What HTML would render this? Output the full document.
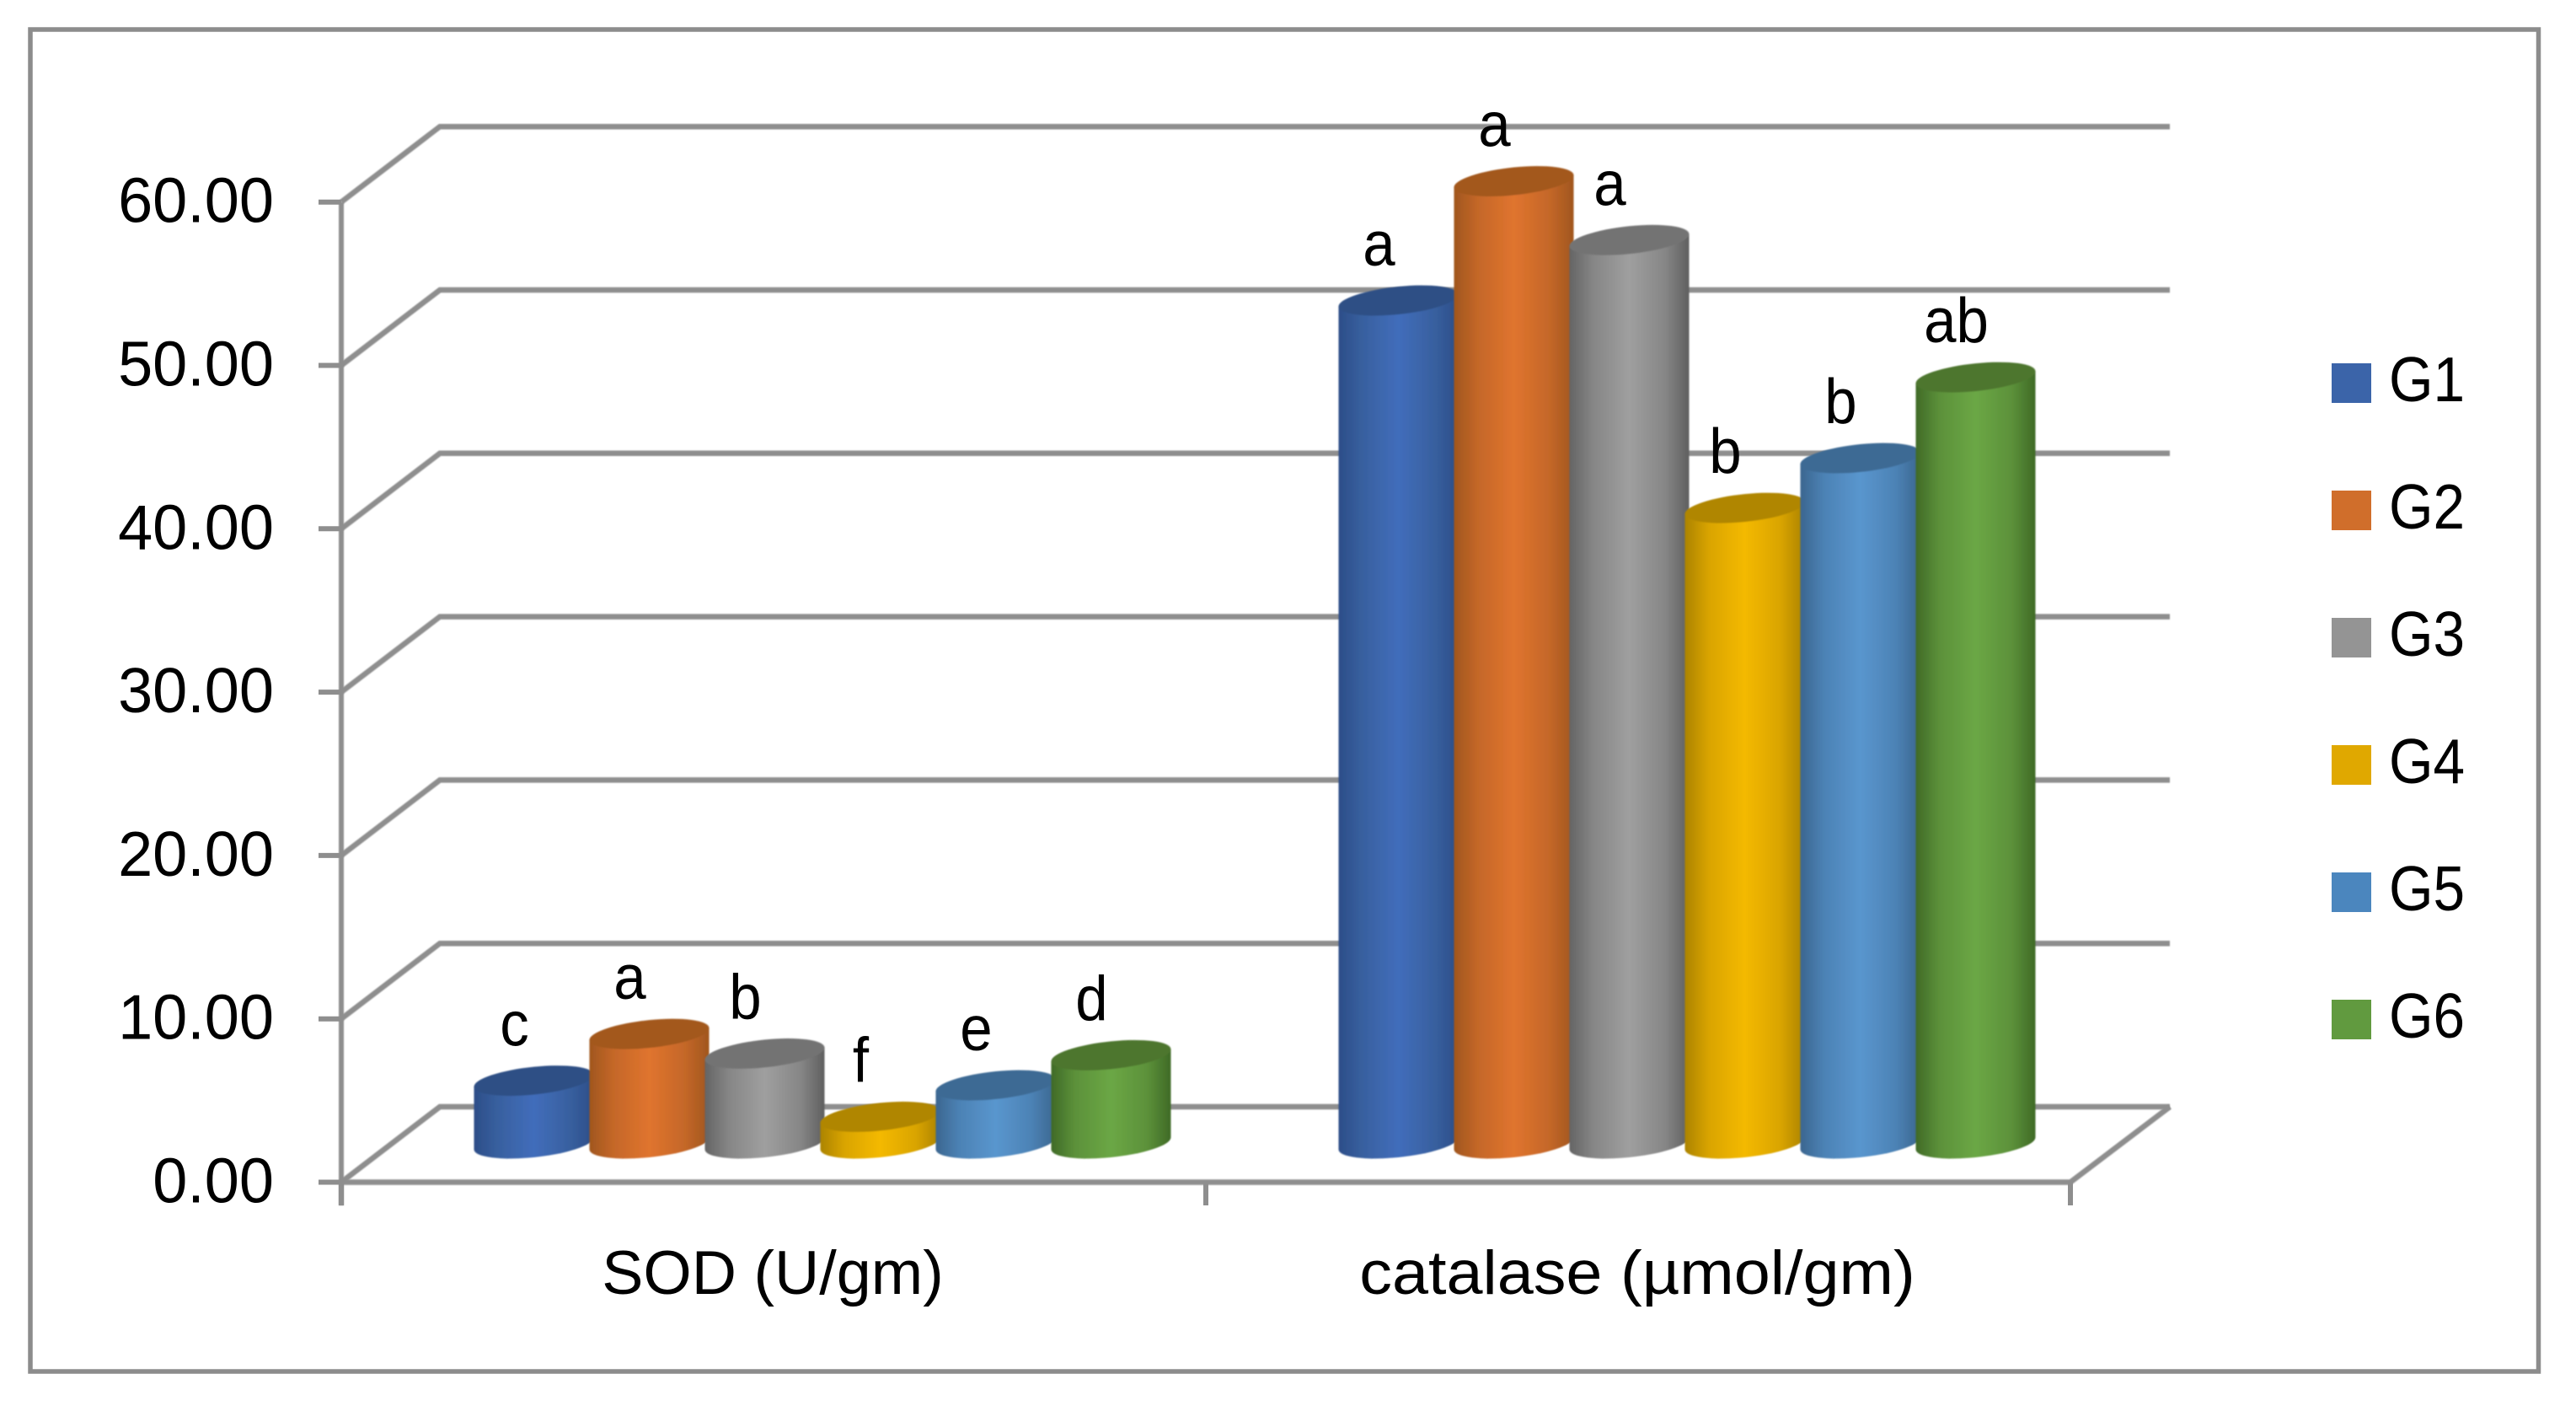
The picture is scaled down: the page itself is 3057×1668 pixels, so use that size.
<!DOCTYPE html>
<html lang="en">
<head>
<meta charset="utf-8">
<title>SOD and catalase by group</title>
<style>
  html, body { margin: 0; padding: 0; background: #fff; }
  svg { display: block; }
  text { font-family: "Liberation Sans", sans-serif; fill: #000; }
  .grid { fill: none; stroke: #8e8e8e; stroke-width: 6.5; stroke-linejoin: miter; }
  .tick { stroke: #8e8e8e; stroke-width: 6; fill: none; }
  .cap-0 { fill: #2e4f85; } .cap-1 { fill: #a3581f; } .cap-2 { fill: #737373; }
  .cap-3 { fill: #b08600; } .cap-4 { fill: #3d6a94; } .cap-5 { fill: #4e762e; }
  .sw-0 { fill: #3b64a9; } .sw-1 { fill: #d06e2b; } .sw-2 { fill: #949494; }
  .sw-3 { fill: #e0a800; } .sw-4 { fill: #4b86be; } .sw-5 { fill: #619a3f; }
</style>
</head>
<body>
<svg id="chart" xmlns="http://www.w3.org/2000/svg" width="3057" height="1668" viewBox="0 0 3057 1668">
  <defs>
    <filter id="soft" filterUnits="userSpaceOnUse" x="-3000" y="-1000" width="9000" height="4000"><feGaussianBlur stdDeviation="0.9"/></filter>
    <linearGradient id="grad-0"><stop offset="0" stop-color="#2c4d88"/><stop offset=".2" stop-color="#38609f"/><stop offset=".5" stop-color="#416dbb"/><stop offset=".8" stop-color="#38609f"/><stop offset="1" stop-color="#2c4d88"/></linearGradient>
    <linearGradient id="grad-1"><stop offset="0" stop-color="#a0561e"/><stop offset=".2" stop-color="#c46728"/><stop offset=".5" stop-color="#e0742e"/><stop offset=".8" stop-color="#c46728"/><stop offset="1" stop-color="#a0561e"/></linearGradient>
    <linearGradient id="grad-2"><stop offset="0" stop-color="#646464"/><stop offset=".2" stop-color="#868686"/><stop offset=".5" stop-color="#9f9f9f"/><stop offset=".8" stop-color="#868686"/><stop offset="1" stop-color="#5f5f5f"/></linearGradient>
    <linearGradient id="grad-3"><stop offset="0" stop-color="#ac8300"/><stop offset=".2" stop-color="#d9a400"/><stop offset=".5" stop-color="#f4b900"/><stop offset=".8" stop-color="#d9a400"/><stop offset="1" stop-color="#ac8300"/></linearGradient>
    <linearGradient id="grad-4"><stop offset="0" stop-color="#3b668f"/><stop offset=".2" stop-color="#4c82b5"/><stop offset=".5" stop-color="#5996ce"/><stop offset=".8" stop-color="#4c82b5"/><stop offset="1" stop-color="#3b668f"/></linearGradient>
    <linearGradient id="grad-5"><stop offset="0" stop-color="#406a27"/><stop offset=".2" stop-color="#5c913a"/><stop offset=".5" stop-color="#6ba745"/><stop offset=".8" stop-color="#5c913a"/><stop offset="1" stop-color="#3f6a26"/></linearGradient>
  </defs>
  <rect x="0" y="0" width="3057" height="1668" fill="#ffffff"/>
  <rect x="36" y="35" width="2976.5" height="1592" fill="none" stroke="#8c8c8c" stroke-width="5.5"/>
  <g id="axes"></g>
  <g id="bars"></g>
  <g id="labels"></g>
  <g id="legend"></g>
</svg>
<script>
// ---- chart data ----
const categories = ["SOD (U/gm)", "catalase (µmol/gm)"];
const seriesNames = ["G1", "G2", "G3", "G4", "G5", "G6"];
const sodValues = [3.84, 6.7, 5.5, 1.63, 3.56, 5.4];
const catalaseValues = [51.6, 58.9, 55.3, 38.9, 41.95, 46.9];
const sodLetters = ["c", "a", "b", "f", "e", "d"];
const catalaseLetters = ["a", "a", "a", "b", "b", "ab"];
const tickValues = [0, 10, 20, 30, 40, 50, 60];
const tickLabels = ["0.00", "10.00", "20.00", "30.00", "40.00", "50.00", "60.00"];

const categoryValues = [sodValues, catalaseValues];
const categoryLetters = [sodLetters, catalaseLetters];

// ---- axis functions ----
const NS = "http://www.w3.org/2000/svg";
const plotLeft = 405, plotRight = 2457, floorFront = 1402.5;
const depthX = 117, depthY = -89.5;
const unit = 19.38;
const bandWidth = (plotRight - plotLeft) / categories.length;
const barPitch = 137, barRadius = 71, capRy = 16.5, shear = 0.1;
const barBase = 1356.5;

function axisY(v) { return floorFront - v * unit; }
function barY(v) { return barBase - v * unit; }
function barX(c, s) { return plotLeft + bandWidth * (c + 0.5) + 58 + (s - 2.5) * barPitch; }

function make(tag, parent, attrs, content) {
  const el = document.createElementNS(NS, tag);
  for (const k in attrs) el.setAttribute(k, attrs[k]);
  if (content !== undefined) el.textContent = content;
  parent.appendChild(el);
  return el;
}
function squeeze(el, factor) {
  el.setAttribute("textLength", (el.getComputedTextLength() * factor).toFixed(1));
  el.setAttribute("lengthAdjust", "spacingAndGlyphs");
}

const axes = document.getElementById("axes");
const barsLayer = document.getElementById("bars");
const labelsLayer = document.getElementById("labels");
const legendLayer = document.getElementById("legend");

// y axis line
const axisLine = make("line", axes, { x1: plotLeft, y1: axisY(60), x2: plotLeft, y2: 1430, "class": "tick", filter: "url(#soft)" });



// gridlines, ticks, tick labels
tickValues.forEach(function (v, i) {
  const y = axisY(v);
  const grid = make("polyline", axes, {
    points: plotLeft + "," + y + " " + (plotLeft + depthX) + "," + (y + depthY) + " " + (plotRight + depthX + 1) + "," + (y + depthY),
    "class": "grid", filter: "url(#soft)"
  });
  
  

  const tick = make("line", axes, { x1: plotLeft - 27, y1: y, x2: plotLeft, y2: y, "class": "tick" });
  
  

  const label = make("text", axes, { x: 325, y: y + 24, "font-size": 75, "text-anchor": "end" }, tickLabels[i]);
  
  
  squeeze(label, 0.985);
});

// floor front edge and right depth edge
const floorEdge = make("polyline", axes, {
  points: plotLeft + "," + floorFront + " " + plotRight + "," + floorFront + " " + (plotRight + depthX + 1) + "," + (floorFront + depthY),
  "class": "grid", filter: "url(#soft)"
});



// category ticks and labels
for (let c = 0; c <= categories.length; c++) {
  const x = plotLeft + c * bandWidth;
  const t = make("line", axes, { x1: x, y1: floorFront, x2: x, y2: 1430, "class": "tick" });
  
  
}
const categoryWidthFactor = [1.01, 1.06];
categories.forEach(function (name, c) {
  const text = make("text", axes, { x: plotLeft + bandWidth * (c + 0.5) - 1, y: 1535, "font-size": 73, "text-anchor": "middle" }, name);
  
  
  squeeze(text, categoryWidthFactor[c]);
});

// cylinders
categories.forEach(function (name, c) {
  categoryValues[c].forEach(function (v, s) {
    const cx = barX(c, s);
    const top = barY(v);
    const g = make("g", barsLayer, { transform: "matrix(1," + (-shear) + ",0,1," + cx + ",0)", filter: "url(#soft)" });
    
    
    const body = make("path", g, {
      d: "M" + (-barRadius) + " " + top + " L" + (-barRadius) + " " + barBase +
         " A" + barRadius + " " + capRy + " 0 0 0 " + barRadius + " " + barBase +
         " L" + barRadius + " " + top + " Z",
      fill: "url(#grad-" + s + ")"
    });
    
    
    const cap = make("ellipse", g, { cx: 0, cy: top, rx: barRadius, ry: capRy, "class": "cap-" + s });
    
    
  });
});

// significance letters
categories.forEach(function (name, c) {
  categoryLetters[c].forEach(function (letter, s) {
    const el = make("text", labelsLayer, {
      x: barX(c, s) - 23,
      y: barY(categoryValues[c][s]) - 41.5,
      "font-size": 75, "text-anchor": "middle"
    }, letter);
    
    
    squeeze(el, 0.92);
  });
});

// legend
seriesNames.forEach(function (name, s) {
  const top = 431 + s * 151;
  const entry = make("g", legendLayer, {});
  
  
  const sw = make("rect", entry, { x: 2767, y: top, width: 47, height: 47, "class": "sw-" + s });
  
  
  const text = make("text", entry, { x: 2835, y: top + 45, "font-size": 75 }, name);
  
  
  squeeze(text, 0.9);
});
</script>
</body>
</html>
